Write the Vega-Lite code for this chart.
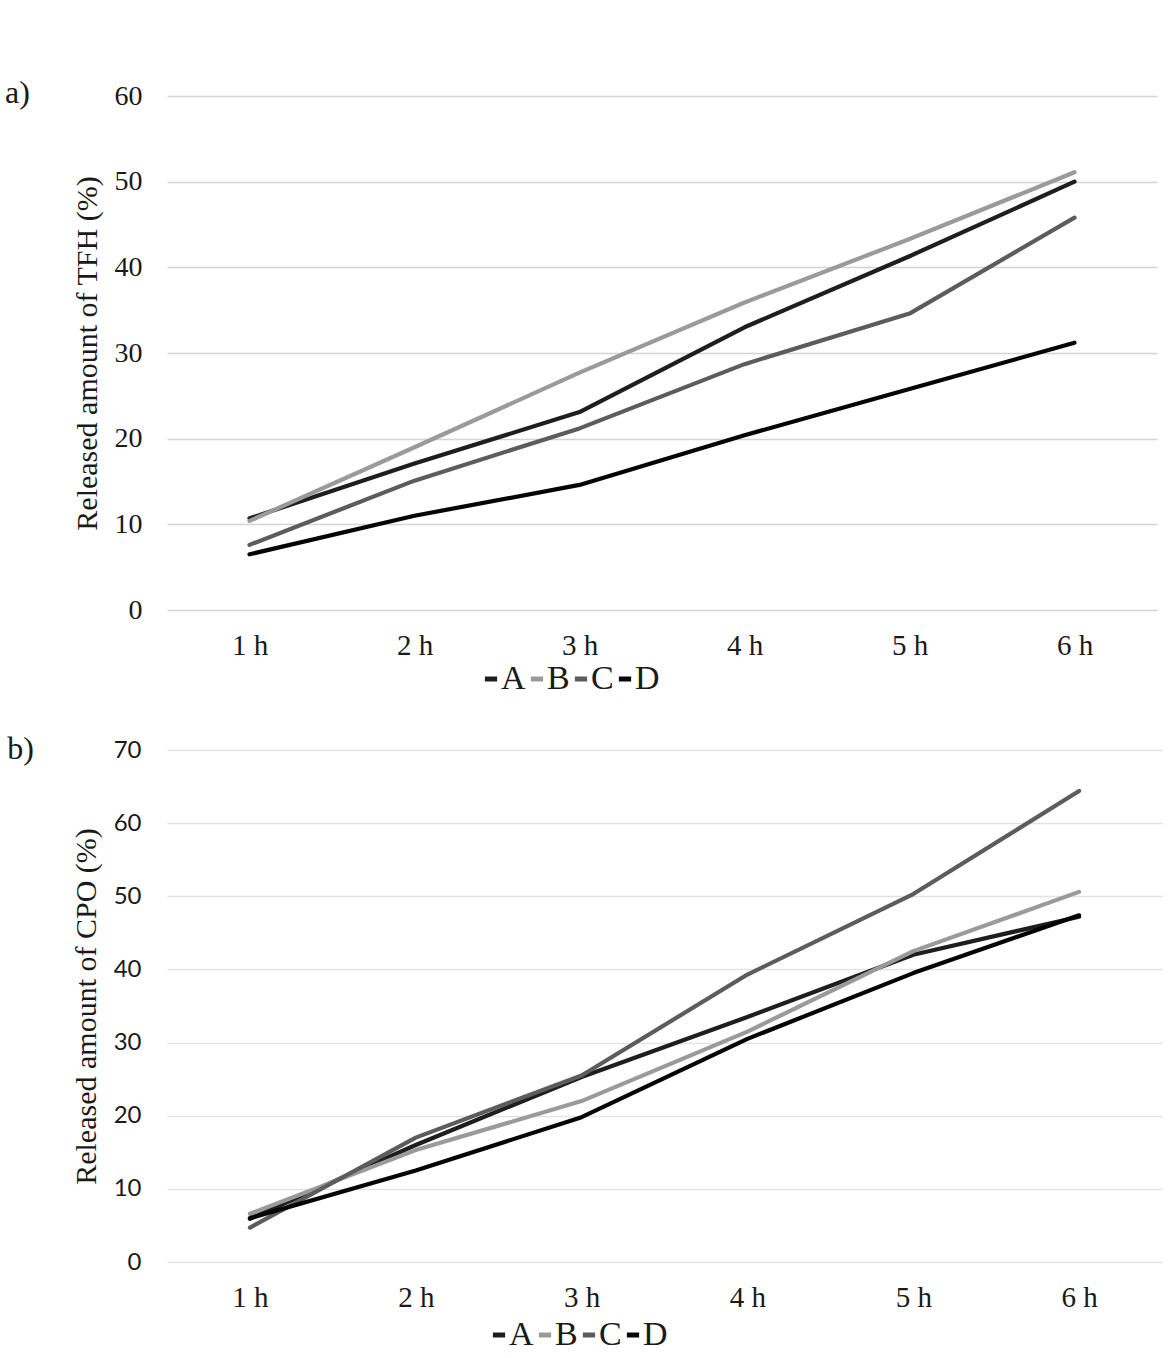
{
  "$schema": "https://vega.github.io/schema/vega-lite/v6.json",
  "background": "white",
  "padding": {"left": 5, "top": 77, "right": 5, "bottom": 5},
  "spacing": 37,
  "config": {
    "view": {"stroke": null},
    "axis": {
      "domain": false,
      "ticks": false,
      "gridColor": "#d4d4d4",
      "gridWidth": 1.5,
      "labelColor": "#1a1a1a",
      "titleColor": "#1a1a1a",
      "labelFont": "Liberation Serif",
      "titleFont": "Liberation Serif",
      "titleFontWeight": "normal"
    },
    "legend": {
      "labelFont": "Liberation Serif",
      "labelColor": "#1a1a1a",
      "labelFontSize": 34,
      "symbolType": "stroke",
      "symbolStrokeWidth": 5,
      "symbolSize": 150,
      "labelOffset": -7,
      "columnPadding": -6,
      "gridAlign": "none",
      "direction": "horizontal",
      "orient": "none",
      "title": null
    },
    "title": {
      "font": "Liberation Serif",
      "fontSize": 32,
      "fontWeight": "normal",
      "color": "#1a1a1a",
      "anchor": "start",
      "frame": "bounds"
    }
  },
  "datasets": {
    "tfh": [
      {"time": "1 h", "series": "A", "value": 10.7},
      {"time": "2 h", "series": "A", "value": 17.1},
      {"time": "3 h", "series": "A", "value": 23.1},
      {"time": "4 h", "series": "A", "value": 33.0},
      {"time": "5 h", "series": "A", "value": 41.3},
      {"time": "6 h", "series": "A", "value": 50.0},
      {"time": "1 h", "series": "B", "value": 10.4},
      {"time": "2 h", "series": "B", "value": 19.0},
      {"time": "3 h", "series": "B", "value": 27.7},
      {"time": "4 h", "series": "B", "value": 35.9},
      {"time": "5 h", "series": "B", "value": 43.3},
      {"time": "6 h", "series": "B", "value": 51.1},
      {"time": "1 h", "series": "C", "value": 7.6},
      {"time": "2 h", "series": "C", "value": 15.1},
      {"time": "3 h", "series": "C", "value": 21.2},
      {"time": "4 h", "series": "C", "value": 28.7},
      {"time": "5 h", "series": "C", "value": 34.6},
      {"time": "6 h", "series": "C", "value": 45.8},
      {"time": "1 h", "series": "D", "value": 6.5},
      {"time": "2 h", "series": "D", "value": 11.0},
      {"time": "3 h", "series": "D", "value": 14.6},
      {"time": "4 h", "series": "D", "value": 20.4},
      {"time": "5 h", "series": "D", "value": 25.8},
      {"time": "6 h", "series": "D", "value": 31.2}
    ],
    "cpo": [
      {"time": "1 h", "series": "A", "value": 5.9},
      {"time": "2 h", "series": "A", "value": 16.0},
      {"time": "3 h", "series": "A", "value": 25.3},
      {"time": "4 h", "series": "A", "value": 33.5},
      {"time": "5 h", "series": "A", "value": 42.0},
      {"time": "6 h", "series": "A", "value": 47.2},
      {"time": "1 h", "series": "B", "value": 6.6},
      {"time": "2 h", "series": "B", "value": 15.3},
      {"time": "3 h", "series": "B", "value": 22.0},
      {"time": "4 h", "series": "B", "value": 31.5},
      {"time": "5 h", "series": "B", "value": 42.5},
      {"time": "6 h", "series": "B", "value": 50.6},
      {"time": "1 h", "series": "C", "value": 4.7},
      {"time": "2 h", "series": "C", "value": 17.0},
      {"time": "3 h", "series": "C", "value": 25.5},
      {"time": "4 h", "series": "C", "value": 39.3},
      {"time": "5 h", "series": "C", "value": 50.3},
      {"time": "6 h", "series": "C", "value": 64.4},
      {"time": "1 h", "series": "D", "value": 6.0},
      {"time": "2 h", "series": "D", "value": 12.5},
      {"time": "3 h", "series": "D", "value": 19.8},
      {"time": "4 h", "series": "D", "value": 30.5},
      {"time": "5 h", "series": "D", "value": 39.5},
      {"time": "6 h", "series": "D", "value": 47.4}
    ]
  },
  "resolve": {"scale": {"color": "independent"}, "legend": {"color": "independent"}},
  "vconcat": [
    {
      "width": 990,
      "height": 514,
      "title": {"text": "a)", "dx": -67, "offset": -28},
      "data": {"name": "tfh"},
      "mark": {"type": "line", "strokeWidth": 4.2, "strokeCap": "round", "strokeJoin": "round"},
      "encoding": {
        "x": {
          "field": "time",
          "type": "ordinal",
          "sort": ["1 h", "2 h", "3 h", "4 h", "5 h", "6 h"],
          "scale": {"type": "point", "padding": 0.5},
          "axis": {"title": null, "labelAngle": 0, "labelFontSize": 29, "labelPadding": 21}
        },
        "y": {
          "field": "value",
          "type": "quantitative",
          "scale": {"domain": [0, 60]},
          "axis": {
            "values": [0, 10, 20, 30, 40, 50, 60],
            "title": "Released amount of TFH (%)",
            "titleFontSize": 30,
            "titlePadding": 12,
            "labelFontSize": 28,
            "labelPadding": 25
          }
        },
        "color": {
          "field": "series",
          "type": "nominal",
          "scale": {"domain": ["A", "B", "C", "D"], "range": ["#1e1e1e", "#9a9a9a", "#5c5c5c", "#050505"]},
          "legend": {"legendX": 307, "legendY": 566}
        }
      }
    },
    {
      "width": 995,
      "height": 512,
      "title": {"text": "b)", "dx": -64, "offset": -28},
      "data": {"name": "cpo"},
      "mark": {"type": "line", "strokeWidth": 4.2, "strokeCap": "round", "strokeJoin": "round"},
      "encoding": {
        "x": {
          "field": "time",
          "type": "ordinal",
          "sort": ["1 h", "2 h", "3 h", "4 h", "5 h", "6 h"],
          "scale": {"type": "point", "padding": 0.5},
          "axis": {"title": null, "labelAngle": 0, "labelFontSize": 29, "labelPadding": 21}
        },
        "y": {
          "field": "value",
          "type": "quantitative",
          "scale": {"domain": [0, 70]},
          "axis": {
            "values": [0, 10, 20, 30, 40, 50, 60, 70],
            "title": "Released amount of CPO (%)",
            "titleFontSize": 30,
            "titlePadding": 12,
            "labelFont": "Lato",
            "labelFontSize": 24,
            "labelPadding": 26,
            "gridColor": "#e3e3e3"
          }
        },
        "color": {
          "field": "series",
          "type": "nominal",
          "scale": {"domain": ["A", "B", "C", "D"], "range": ["#1e1e1e", "#9a9a9a", "#5c5c5c", "#050505"]},
          "legend": {"legendX": 315, "legendY": 568}
        }
      }
    }
  ]
}
